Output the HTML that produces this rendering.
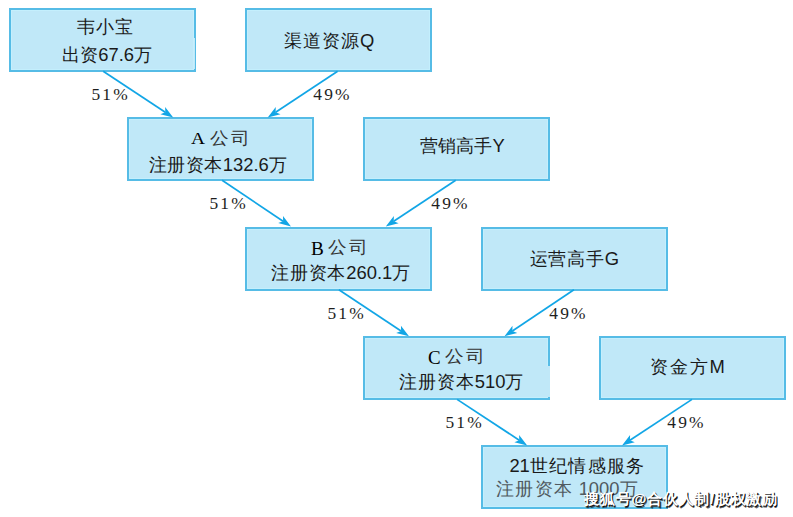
<!DOCTYPE html><html><head><meta charset="utf-8"><style>
html,body{margin:0;padding:0;background:#fff;width:793px;height:517px;overflow:hidden;position:relative}
.b{position:absolute;box-sizing:border-box;width:187px;height:64px;border:2px solid #56bce6;background:#c0e8f8;box-shadow:inset 0 0 0 1px #c4effd}
.p{position:absolute;background:#c0e8f8}
.t{position:absolute;white-space:nowrap;line-height:1;color:#1a1a1a}
.S{font-family:"Liberation Sans",sans-serif}
.R{font-family:"Liberation Serif",serif;color:#2b2b2b}
svg{position:absolute;left:0;top:0}
</style></head><body>

<div class="b" style="left:9px;top:8px"></div>
<div class="b" style="left:245px;top:8px"></div>
<div class="b" style="left:127px;top:117px"></div>
<div class="b" style="left:363px;top:117px"></div>
<div class="b" style="left:245px;top:227px"></div>
<div class="b" style="left:481px;top:227px"></div>
<div class="b" style="left:363px;top:336px"></div>
<div class="b" style="left:599px;top:336px"></div>
<div class="b" style="left:481px;top:445px"></div>
<div class="p" style="left:194px;top:38px;width:1px;height:31px"></div>
<div class="p" style="left:547px;top:366px;width:3px;height:31px"></div>
<svg width="793" height="517" viewBox="0 0 793 517"><line x1="103.20" y1="71.30" x2="165.27" y2="112.27" stroke="#12a6e6" stroke-width="1.7"/><path d="M173.20 117.50 L160.40 114.20 L165.27 112.27 L165.14 107.03 Z" fill="#12a6e6"/><line x1="222.10" y1="180.30" x2="283.11" y2="221.21" stroke="#12a6e6" stroke-width="1.7"/><path d="M291.00 226.50 L278.22 223.11 L283.11 221.21 L283.01 215.97 Z" fill="#12a6e6"/><line x1="338.90" y1="289.80" x2="401.08" y2="331.05" stroke="#12a6e6" stroke-width="1.7"/><path d="M409.00 336.30 L396.21 332.97 L401.08 331.05 L400.96 325.81 Z" fill="#12a6e6"/><line x1="457.10" y1="399.40" x2="519.26" y2="440.19" stroke="#12a6e6" stroke-width="1.7"/><path d="M527.20 445.40 L514.39 442.14 L519.26 440.19 L519.11 434.95 Z" fill="#12a6e6"/><line x1="337.60" y1="71.30" x2="275.63" y2="112.26" stroke="#12a6e6" stroke-width="1.7"/><path d="M267.70 117.50 L275.76 107.02 L275.63 112.26 L280.50 114.19 Z" fill="#12a6e6"/><line x1="455.70" y1="180.30" x2="393.73" y2="221.26" stroke="#12a6e6" stroke-width="1.7"/><path d="M385.80 226.50 L393.86 216.02 L393.73 221.26 L398.60 223.19 Z" fill="#12a6e6"/><line x1="573.90" y1="289.80" x2="512.39" y2="331.01" stroke="#12a6e6" stroke-width="1.7"/><path d="M504.50 336.30 L512.49 325.77 L512.39 331.01 L517.28 332.91 Z" fill="#12a6e6"/><line x1="692.00" y1="399.40" x2="629.94" y2="440.18" stroke="#12a6e6" stroke-width="1.7"/><path d="M622.00 445.40 L630.08 434.94 L629.94 440.18 L634.81 442.13 Z" fill="#12a6e6"/></svg>
<div class="t S" style="left:77.30px;top:18.30px;font-size:18.40px;"><span style="letter-spacing:1.08px">韦小宝</span></div>
<div class="t S" style="left:62.30px;top:45.50px;font-size:18.40px;"><span style="letter-spacing:-0.04px">出资</span>67.6<span style="letter-spacing:-0.04px">万</span></div>
<div class="t S" style="left:284.10px;top:32.10px;font-size:18.40px;"><span style="letter-spacing:1.00px">渠道资源</span>Q</div>
<div class="t R" style="left:190.50px;top:129.90px;font-size:17.60px;color:#000;transform:scaleX(1.1);transform-origin:0 0;">A</div>
<div class="t S" style="left:210.00px;top:129.70px;font-size:17.00px;letter-spacing:2.5px;color:#333;transform:scaleX(1.1);transform-origin:0 0;">公司</div>
<div class="t S" style="left:149.10px;top:156.30px;font-size:18.40px;"><span style="letter-spacing:0.40px">注册资本</span>132.6<span style="letter-spacing:0.40px">万</span></div>
<div class="t S" style="left:419.70px;top:136.80px;font-size:18.40px;"><span style="letter-spacing:0.18px">营销高手</span>Y</div>
<div class="t R" style="left:310.60px;top:240.90px;font-size:17.80px;color:#000;transform:scaleX(1.08);transform-origin:0 0;">B</div>
<div class="t S" style="left:327.60px;top:238.70px;font-size:17.00px;letter-spacing:2.5px;color:#333;transform:scaleX(1.1);transform-origin:0 0;">公司</div>
<div class="t S" style="left:271.10px;top:264.30px;font-size:18.40px;"><span style="letter-spacing:0.79px">注册资本</span>260.1<span style="letter-spacing:0.79px">万</span></div>
<div class="t S" style="left:529.60px;top:249.90px;font-size:18.40px;"><span style="letter-spacing:0.81px">运营高手</span>G</div>
<div class="t R" style="left:427.90px;top:349.20px;font-size:18.20px;color:#000;transform:scaleX(1.04);transform-origin:0 0;">C</div>
<div class="t S" style="left:444.60px;top:348.10px;font-size:17.00px;letter-spacing:2.5px;color:#333;transform:scaleX(1.1);transform-origin:0 0;">公司</div>
<div class="t S" style="left:398.80px;top:373.30px;font-size:18.40px;"><span style="letter-spacing:1.00px">注册资本</span>510<span style="letter-spacing:1.00px">万</span></div>
<div class="t S" style="left:649.80px;top:357.80px;font-size:18.40px;"><span style="letter-spacing:1.88px">资金方</span>M</div>
<div class="t S" style="left:509.40px;top:456.60px;font-size:18.40px;">21<span style="letter-spacing:1.25px">世纪情感服务</span></div>
<div class="t S" style="left:495.80px;top:480.30px;font-size:18.40px;color:#505a60;"><span style="letter-spacing:1.43px">注册资本</span> 1000<span style="letter-spacing:1.43px">万</span></div>
<div class="t S" style="left:584.30px;top:490.60px;font-size:15.40px;letter-spacing:0.7px;font-weight:bold;color:#fff;text-shadow:1px 1px 0 #111,1.5px 1.5px 0.5px rgba(0,0,0,.6);">搜狐号@合伙人制/股权激励</div>
<div class="t R" style="left:91.40px;top:86.00px;font-size:17.40px;letter-spacing:2.2px;color:#1e1e1e;">51%</div>
<div class="t R" style="left:313.30px;top:86.00px;font-size:17.40px;letter-spacing:2.2px;color:#1e1e1e;">49%</div>
<div class="t R" style="left:209.40px;top:195.40px;font-size:17.40px;letter-spacing:2.2px;color:#1e1e1e;">51%</div>
<div class="t R" style="left:431.30px;top:195.40px;font-size:17.40px;letter-spacing:2.2px;color:#1e1e1e;">49%</div>
<div class="t R" style="left:327.40px;top:304.80px;font-size:17.40px;letter-spacing:2.2px;color:#1e1e1e;">51%</div>
<div class="t R" style="left:549.30px;top:304.80px;font-size:17.40px;letter-spacing:2.2px;color:#1e1e1e;">49%</div>
<div class="t R" style="left:445.40px;top:414.20px;font-size:17.40px;letter-spacing:2.2px;color:#1e1e1e;">51%</div>
<div class="t R" style="left:667.30px;top:414.20px;font-size:17.40px;letter-spacing:2.2px;color:#1e1e1e;">49%</div>
</body></html>
